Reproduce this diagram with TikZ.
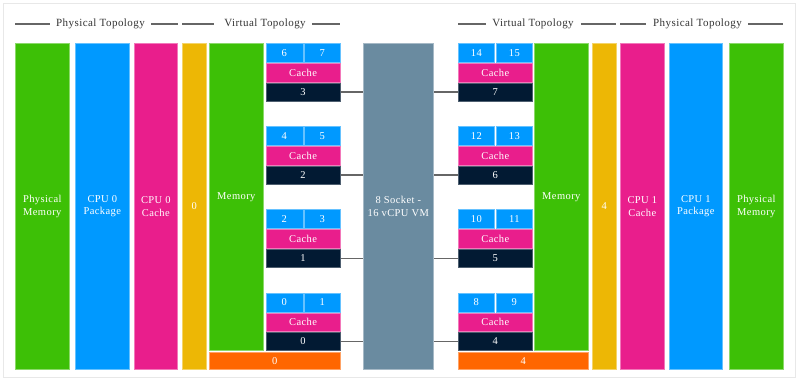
\documentclass[tikz,border=0pt]{standalone}
\usepackage{fontspec}
\setmainfont[LetterSpace=4]{Liberation Serif}
\definecolor{cgreen}{HTML}{3DC006}
\definecolor{cblue}{HTML}{0099FF}
\definecolor{cpink}{HTML}{E91E8C}
\definecolor{cyellow}{HTML}{EDB705}
\definecolor{corange}{HTML}{FF6600}
\definecolor{cnavy}{HTML}{021A33}
\definecolor{cslate}{HTML}{6A8BA0}
\definecolor{crule}{HTML}{666666}
\definecolor{ctext}{HTML}{333333}
\definecolor{cframe}{HTML}{E8E8E8}
\begin{document}
\begin{tikzpicture}[x=1pt,y=-1pt,
  box/.style={fill=#1, draw=#1!60!white, line width=0.6pt, inner sep=0pt, anchor=north west,
    text=white, font=\fontsize{10.5}{12.6}\selectfont, align=center},
  conn/.style={draw=crule, line width=1.4pt},
  rulel/.style={draw=crule, line width=1.6pt},
  head/.style={text=ctext, font=\fontsize{11}{13}\selectfont, inner sep=0pt}]
\useasboundingbox (0,0) rectangle (800,383);
\draw[cframe, line width=0.8pt] (3,3) rectangle (795,377);

% headers
\node[head] (hL1) at (100.5,24) {Physical Topology};
\node[head] (hL2) at (265,24) {Virtual Topology};
\node[head] (hR1) at (533,24) {Virtual Topology};
\node[head] (hR2) at (697.5,24) {Physical Topology};
\coordinate (l1a) at (15,24); \coordinate (l1b) at (178,24);
\coordinate (l2a) at (182,24); \coordinate (l2b) at (340,24);
\coordinate (r1a) at (458,24); \coordinate (r1b) at (616,24);
\coordinate (r2a) at (620,24); \coordinate (r2b) at (783,24);
\draw[rulel] (l1a) -- ([xshift=-6pt]hL1.west) ([xshift=6pt]hL1.east) -- (l1b);
\draw[rulel] (l2a) -- ([xshift=-10pt]hL2.west) ([xshift=6pt]hL2.east) -- (l2b);
\draw[rulel] (r1a) -- ([xshift=-6pt]hR1.west) ([xshift=7pt]hR1.east) -- (r1b);
\draw[rulel] (r2a) -- ([xshift=-7pt]hR2.west) ([xshift=6pt]hR2.east) -- (r2b);

% left physical
\node[box=cgreen, minimum width=54pt, minimum height=326pt] (pm0) at (15,43) {Physical\\Memory};
\node[box=cblue, minimum width=54pt, minimum height=326pt] (pk0) at (75,43) {CPU 0\\Package};
\node[box=cpink, minimum width=43pt, minimum height=326pt] (ca0) at (134,43) {CPU 0\\Cache};
\node[box=cyellow, minimum width=24pt, minimum height=326pt] (n0) at (182,43) {0};
\node[box=cgreen, minimum width=54pt, minimum height=307pt] (mem0) at (209,43) {Memory};
\node[box=corange, minimum width=131pt, minimum height=17pt] (or0) at (209,352) {0};

% VM
\node[box=cslate, minimum width=70pt, minimum height=326pt] (vm) at (363,43) {8 Socket -\\16 vCPU VM};

% right physical
\node[box=cgreen, minimum width=54pt, minimum height=307pt] (mem1) at (534,43) {Memory};
\node[box=corange, minimum width=130pt, minimum height=17pt] (or1) at (458,352) {4};
\node[box=cyellow, minimum width=24pt, minimum height=326pt] (n1) at (592,43) {4};
\node[box=cpink, minimum width=44pt, minimum height=326pt] (ca1) at (620,43) {CPU 1\\Cache};
\node[box=cblue, minimum width=53pt, minimum height=326pt] (pk1) at (669,43) {CPU 1\\Package};
\node[box=cgreen, minimum width=54pt, minimum height=326pt] (pm1) at (729,43) {Physical\\Memory};

% core groups
\foreach \i/\a/\b/\c/\d/\e/\f in {0/6/7/3/14/15/7, 1/4/5/2/12/13/6, 2/2/3/1/10/11/5, 3/0/1/0/8/9/4} {
  \pgfmathsetmacro{\y}{43+83.2*\i}
  % left
  \node[box=cblue, minimum width=37pt, minimum height=19pt] (L\a) at (265.5,\y) {\a};
  \node[box=cblue, minimum width=36pt, minimum height=19pt] (L\b) at (304,\y) {\b};
  \node[box=cpink, minimum width=74.5pt, minimum height=18.5pt] (LC\c) at (265.5,\y+20) {Cache};
  \node[box=cnavy, draw=cnavy!70!white, minimum width=74.5pt, minimum height=18pt] (LD\c) at (265.5,\y+39.5) {\c};
  \draw[conn] (LD\c.east) -- (vm.west |- LD\c.east);
  % right
  \node[box=cblue, minimum width=36pt, minimum height=19pt] (R\d) at (458,\y) {\d};
  \node[box=cblue, minimum width=36pt, minimum height=19pt] (R\e) at (496,\y) {\e};
  \node[box=cpink, minimum width=74pt, minimum height=18.5pt] (RC\f) at (458,\y+20) {Cache};
  \node[box=cnavy, draw=cnavy!70!white, minimum width=74pt, minimum height=18pt] (RD\f) at (458,\y+39.5) {\f};
  \draw[conn] (RD\f.west) -- (vm.east |- RD\f.west);
}
\end{tikzpicture}
\end{document}
